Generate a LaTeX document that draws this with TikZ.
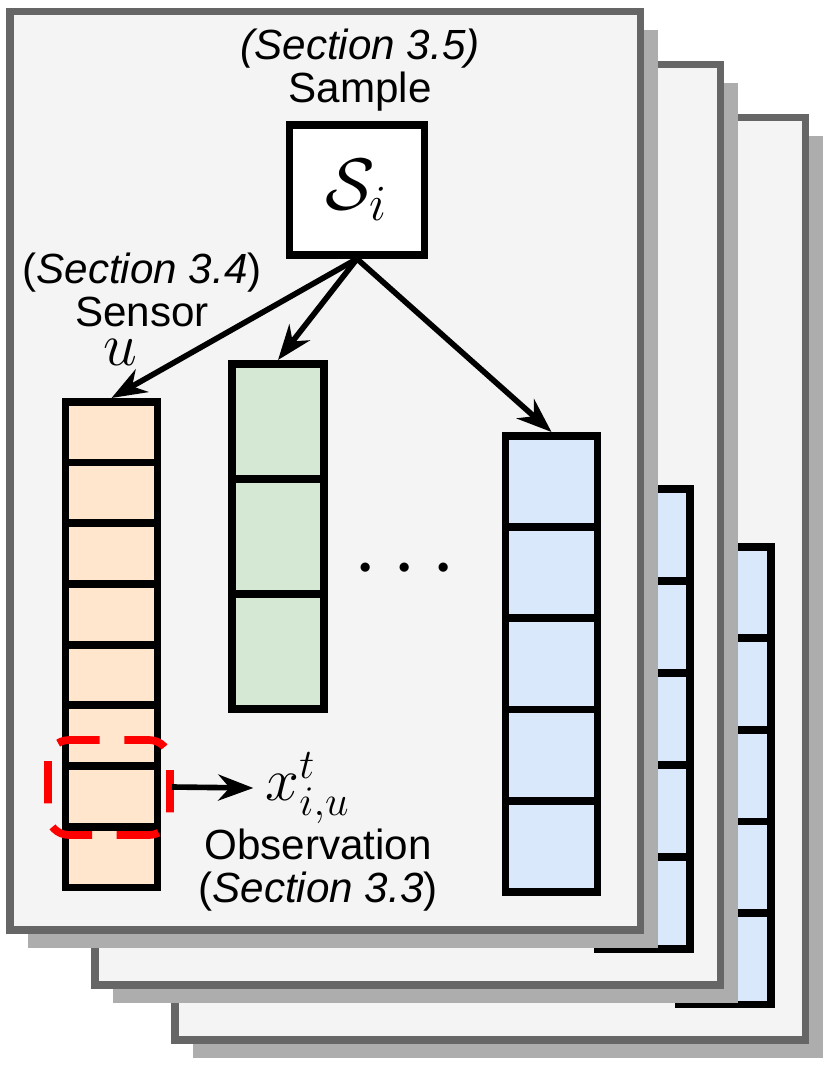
\documentclass[tikz,border=0pt]{standalone}
\usepackage{fontspec}
\setmainfont{Liberation Sans}
\usepackage{amsmath}
\usetikzlibrary{positioning,arrows.meta}
\definecolor{PageFill}{HTML}{F4F4F4}
\definecolor{PageEdge}{HTML}{666666}
\definecolor{OrangeCell}{HTML}{FFE6CC}
\definecolor{GreenCell}{HTML}{D5E8D4}
\definecolor{BlueCell}{HTML}{DAE8FC}
\tikzset{
	page/.style={draw=PageEdge, fill=PageFill, line width=2pt},
	shade/.style={fill=black!32},
	cell/.style={draw, line width=2.2pt, minimum width=0.92cm, inner sep=0pt},
	lbl/.style={font=\fontsize{12}{12.3}\selectfont, align=center, inner sep=0pt},
	link/.style={-{Stealth[length=3.5mm,width=2.6mm]}, line width=1.6pt}
}
% a column of cells: name, x, top y, cell height, number of cells, colour
\newcommand{\sensorcol}[6]{%
	\foreach \k in {1,...,#5}{
		\node[cell, fill=#6, minimum height=#4cm, anchor=north] (#1\k) at (#2,{#3-(\k-1)*#4}) {};
	}
}
\begin{document}
\begin{tikzpicture}[x=1cm,y=1cm]
	\useasboundingbox (0,0) rectangle (8.3,-10.78);
	% third page
	\fill[shade] (1.93,-1.36) rectangle (8.23,-10.58);
	\draw[page] (1.75,-1.18) rectangle (8.05,-10.4);
	\sensorcol{cc}{7.25}{-5.43}{0.915}{5}{BlueCell}
	% second page
	\fill[shade] (1.13,-0.83) rectangle (7.38,-10.03);
	\draw[page] (0.95,-0.65) rectangle (7.2,-9.85);
	\sensorcol{bb}{6.44}{-4.85}{0.92}{5}{BlueCell}
	% front page
	\fill[shade] (0.28,-0.3) rectangle (6.58,-9.48);
	\draw[page] (0.1,-0.12) rectangle (6.4,-9.3);
	%
	% sample
	\node[draw, fill=white, line width=2.2pt, minimum width=1.35cm, minimum height=1.3cm, font=\fontsize{20}{22}\selectfont] (sample) at (3.57,-1.9) {$\mathcal{S}_i$};
	\node[lbl] (samplelbl) at (3.6,-0.7) {\textit{(Section 3.5)}\\Sample};
	%
	% sensor columns
	\sensorcol{oo}{1.115}{-3.98}{0.607}{8}{OrangeCell}
	\sensorcol{gg}{2.78}{-3.6}{1.15}{3}{GreenCell}
	\sensorcol{ll}{5.515}{-4.32}{0.912}{5}{BlueCell}
	\node[font=\fontsize{24}{24}\selectfont] (dots) at (4.12,-5.7) {$\cdots$};
	%
	\node[lbl] (sensorlbl) at (1.42,-2.9) {(\textit{Section 3.4})\\Sensor};
	\node[font=\fontsize{19}{20}\selectfont, inner sep=0pt] (sensoru) at (1.2,-3.52) {$u$};
	\draw[link] (sample.south) -- (oo1.north);
	\draw[link] (sample.south) -- (gg1.north);
	\draw[link] (sample.south) -- (ll1.north);
	%
	% observation
	\draw[red, line width=2.2pt, dash pattern=on 12pt off 7pt, rounded corners=6pt] (0.48,-7.4) rectangle (1.7,-8.35);
	\node[font=\fontsize{18}{20}\selectfont] (obs) at (3.08,-7.88) {$x_{i,u}^{t}$};
	\coordinate (obsfrom) at (1.72,-7.87);
	\draw[link] (obsfrom) -- (obs.west);
	\node[lbl] (obslbl) at (3.18,-8.7) {Observation\\(\textit{Section 3.3})};
\end{tikzpicture}
\end{document}
